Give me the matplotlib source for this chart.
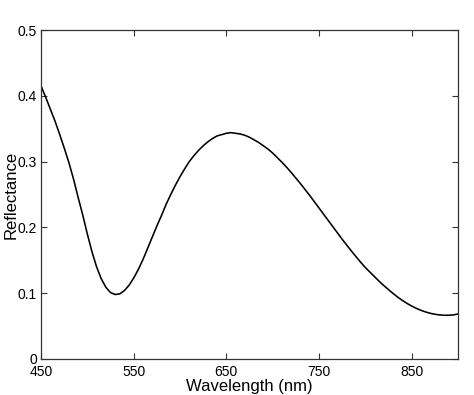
import matplotlib
matplotlib.use("Agg")
import matplotlib.pyplot as plt

wavelength = list(range(450, 905, 5))
reflectance = [0.415, 0.398, 0.380, 0.362, 0.342, 0.321, 0.299, 0.274, 0.246, 0.219,
               0.190, 0.163, 0.140, 0.122, 0.109, 0.101, 0.098, 0.099, 0.104, 0.112,
               0.123, 0.136, 0.151, 0.168, 0.185, 0.202, 0.218, 0.235, 0.250, 0.264,
               0.277, 0.289, 0.300, 0.309, 0.317, 0.324, 0.330, 0.335, 0.339, 0.341,
               0.343, 0.344, 0.343, 0.342, 0.340, 0.337, 0.333, 0.329, 0.324, 0.319,
               0.313, 0.306, 0.299, 0.2915, 0.2835, 0.275, 0.2665, 0.2575, 0.2485, 0.239,
               0.2295, 0.220, 0.2105, 0.201, 0.1915, 0.182, 0.173, 0.164, 0.1555, 0.147,
               0.139, 0.132, 0.125, 0.118, 0.1115, 0.1055, 0.0995, 0.094, 0.089, 0.0845,
               0.0805, 0.077, 0.074, 0.0715, 0.0695, 0.068, 0.067, 0.0665, 0.0665, 0.067,
               0.0685]
xticks = [450, 550, 650, 750, 850]
yticks = [0, 0.1, 0.2, 0.3, 0.4, 0.5]
ytick_labels = ["0", "0.1", "0.2", "0.3", "0.4", "0.5"]

plt.rcParams['font.family'] = ['Liberation Sans', 'DejaVu Sans']

fig = plt.figure(figsize=(4.74, 3.95), dpi=100)
ax = fig.add_axes([41/474, 1-359/395, (458-41)/474, (359-30)/395])
ax.plot(wavelength, reflectance, color='black', linewidth=1.15)
ax.set_xlim(450, 900)
ax.set_ylim(0, 0.5)
ax.set_xticks(xticks)
ax.set_yticks(yticks)
ax.set_yticklabels(ytick_labels)
ax.tick_params(direction='in', length=4, width=0.8, top=True, right=True,
               labelsize=10, pad=3, colors='#333333', labelcolor='black')
ax.tick_params(axis='x', pad=4)
for s in ax.spines.values():
    s.set_linewidth(0.9)
    s.set_color('#333333')
ax.set_xlabel('Wavelength (nm)', fontsize=12, labelpad=0)
ax.set_ylabel('Reflectance', fontsize=12, labelpad=-1)
fig.savefig('out.png', dpi=100)
